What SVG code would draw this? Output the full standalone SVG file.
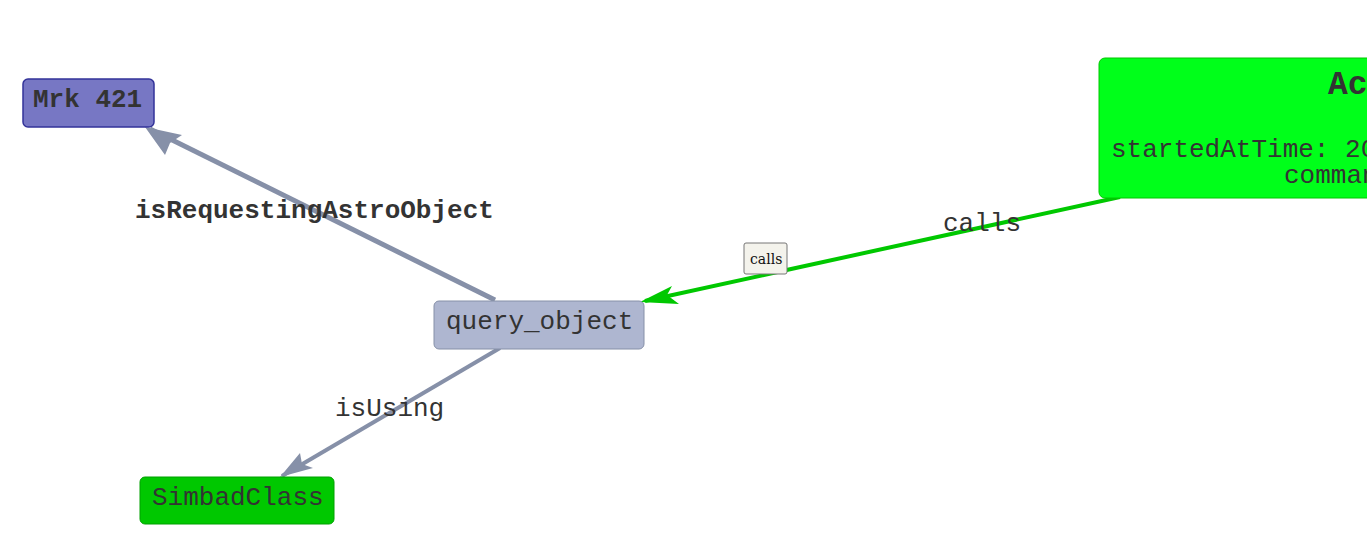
<svg xmlns="http://www.w3.org/2000/svg" width="1367" height="545" viewBox="0 0 1367 545">
<defs>
<style>
.t{font-family:"Liberation Mono",monospace;font-size:26px;fill:#333}
.b{font-weight:bold}
</style>
</defs>
<rect width="1367" height="545" fill="#fff"/>
<g id="edges">
<line x1="495" y1="300" x2="150" y2="129" stroke="#8690a8" stroke-width="5"/>
<path d="M145,127 L182,135 L170,143 L165,155 Z" fill="#8690a8"/>
<line x1="500" y1="348" x2="282" y2="476" stroke="#8690a8" stroke-width="4"/>
<path d="M280,477 L300,453 L302,464 L313,468 Z" fill="#8690a8"/>
<line x1="1120" y1="197" x2="645" y2="301" stroke="#00c800" stroke-width="4"/>
<path d="M640,302 L672,286 L667,295 L679,304 Z" fill="#00c800"/>
<text class="t b" x="135" y="218">isRequestingAstroObject</text>
<text class="t" x="335" y="416">isUsing</text>
<text class="t" x="943" y="231">calls</text>
</g>
<g id="mrk">
<rect x="23" y="79" width="131" height="48" rx="5" fill="#7777c4" stroke="#333399" stroke-width="1.5"/>
<text class="t b" x="33" y="107">Mrk 421</text>
</g>
<g id="query">
<rect x="434" y="301" width="210" height="48" rx="5" fill="#aeb6d0" stroke="#8690a8"/>
<text class="t" x="446" y="329">query_object</text>
</g>
<g id="simbad">
<rect x="140" y="477" width="194" height="47" rx="5" fill="#00c800" stroke="#00a000"/>
<text class="t" x="152" y="505">SimbadClass</text>
</g>
<g id="activity">
<rect x="1099" y="58" width="300" height="140" rx="6" fill="#00ff1a" stroke="#00c800"/>
<text class="t b" x="1328" y="94" style="font-size:33px">Activity</text>
<text class="t" x="1111" y="157">startedAtTime: 2023</text>
<text class="t" x="1284" y="183">command</text>
</g>
<g id="tooltip">
<rect x="744" y="243" width="43" height="31" rx="2" fill="#f4f3ec" stroke="#777"/>
<text x="750" y="264" style="font-family:'DejaVu Serif',serif;font-size:14px" fill="#111">calls</text>
</g>
</svg>
